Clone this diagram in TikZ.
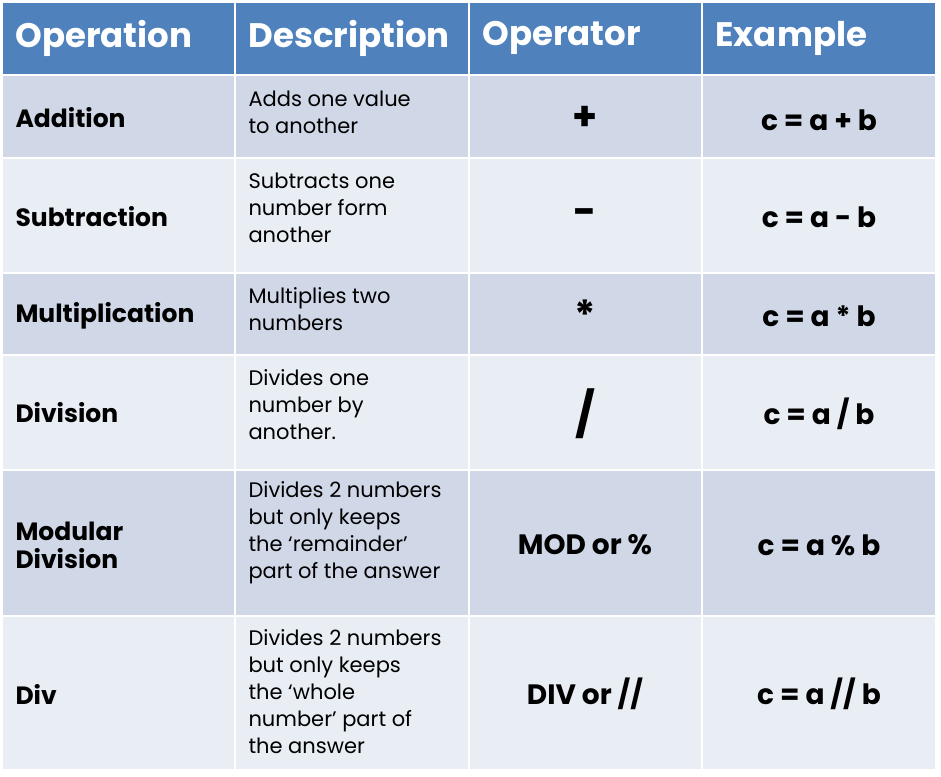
\documentclass[tikz,border=0pt]{standalone}
\usepackage{fontspec}
\setmainfont{Poppins}
\definecolor{hdr}{HTML}{4F81BD}
\definecolor{rowa}{HTML}{D0D8E8}
\definecolor{rowb}{HTML}{E9EDF4}
\tikzset{cellbox/.style={draw=white,line width=2.5pt},
 hd/.style={text=white,font=\fontsize{34}{36}\selectfont\bfseries,anchor=west},
 op/.style={font=\fontsize{25}{28}\selectfont\bfseries,anchor=west,align=left},
 ds/.style={font=\fontsize{21}{27}\selectfont,anchor=west,align=left},
 sy/.style={font=\fontsize{40}{42}\selectfont\bfseries,anchor=center},
 ex/.style={font=\fontsize{28}{30}\selectfont\bfseries,anchor=center}}
\begin{document}
\begin{tikzpicture}[x=1pt,y=-1pt]
\useasboundingbox (0,0) rectangle (941,776);
\fill[white] (0,0) rectangle (941,776);
\foreach \a/\b in {2/235,235/469,469/702,702/936}{
 \path[cellbox,fill=hdr] (\a,2) rectangle (\b,75);}
\foreach \t/\bb/\c in {75/158/rowa,158/273/rowb,273/355/rowa,355/470/rowb,470/616/rowa,616/770/rowb}{
 \foreach \a/\b in {2/235,235/469,469/702,702/936}{
  \path[cellbox,fill=\c] (\a,\t) rectangle (\b,\bb);}}
\node[hd] (h1) at (12,38) {Operation};
\node[hd] (h2) at (245,38) {Description};
\node[hd] (h3) at (479,38) {Operator};
\node[hd] (h4) at (712,38) {Example};
% row 1
\node[op] (o1) at (12,118) {Addition};
\node[ds] (d1) at (245,112) {Adds one value\\to another};
\node[sy] (s1) at (585,118) {+};
\node[ex] (e1) at (819,120) {c = a + b};
% row 2
\node[op] (o2) at (12,217) {Subtraction};
\node[ds] (d2) at (245,208) {Subtracts one\\number form\\another};
\node[sy] (s2) at (585,217) {-};
\node[ex] (e2) at (819,217) {c = a - b};
% row 3
\node[op] (o3) at (12,316) {Multiplication};
\node[ds] (d3) at (245,309) {Multiplies two\\numbers};
\node[sy] (s3) at (585,315) {*};
\node[ex] (e3) at (819,316) {c = a * b};
% row 4
\node[op] (o4) at (12,413) {Division};
\node[ds] (d4) at (245,405) {Divides one\\number by\\another.};
\node[sy,font=\fontsize{44}{46}\selectfont\bfseries] (s4) at (585,414) {/};
\node[ex] (e4) at (819,414) {c = a / b};
% row 5
\node[op] (o5) at (12,545) {Modular\\Division};
\node[ds] (d5) at (245,533) {Divides 2 numbers\\but only keeps\\the ‘remainder’\\part of the answer};
\node[ex] (s5) at (585,545) {MOD or \%};
\node[ex] (e5) at (819,545) {c = a \% b};
% row 6
\node[op] (o6) at (12,694) {Div};
\node[ds] (d6) at (245,692) {Divides 2 numbers\\but only keeps\\the ‘whole\\number’ part of\\the answer};
\node[ex] (s6) at (585,694) {DIV or //};
\node[ex] (e6) at (819,694) {c = a // b};
\end{tikzpicture}
\end{document}
